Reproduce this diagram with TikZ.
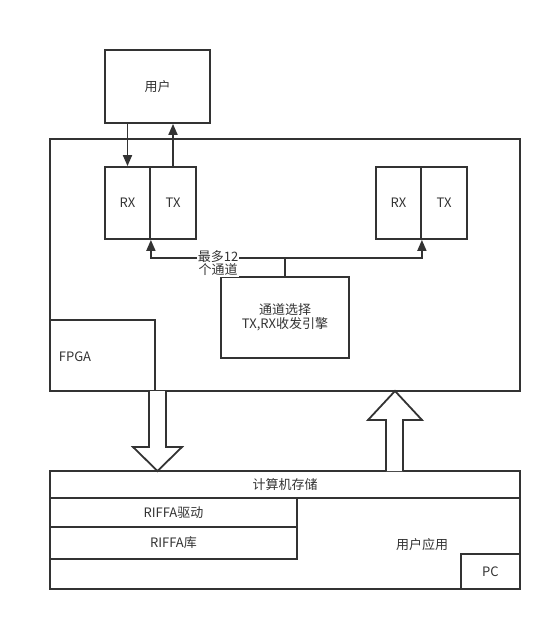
\documentclass[tikz,border=0pt]{standalone}
\usepackage{fontspec}
\setmainfont{Noto Sans CJK SC}
\usetikzlibrary{arrows.meta}
\definecolor{ln}{HTML}{333333}
\definecolor{tx}{HTML}{333333}
\begin{document}
\begin{tikzpicture}[x=1pt,y=-1pt,
  box/.style={draw=ln,line width=1.8pt,inner sep=0pt,text=tx,font=\fontsize{13}{15}\selectfont},
  lbl/.style={text=tx,inner sep=1pt,font=\fontsize{13}{13}\selectfont,align=center},
  conn/.style={draw=ln,line width=1.8pt},
  tip/.style={-{Triangle[width=9pt,length=11pt]}},
  blockarrow/.style={draw=ln,line width=1.8pt,fill=white,line join=miter}]
\useasboundingbox (0,0) rectangle (554,623);
% top part
\node[box,minimum width=105pt,minimum height=73pt] (user) at (157.5,86.5) {用户};
\node[box,minimum width=470pt,minimum height=252pt] (fpga) at (285,265) {};
\node[box,minimum width=45pt,minimum height=72pt] (rxL) at (127.5,203) {RX};
\node[box,minimum width=46pt,minimum height=72pt] (txL) at (173,203) {TX};
\node[box,minimum width=45pt,minimum height=72pt] (rxR) at (398.5,203) {RX};
\node[box,minimum width=46pt,minimum height=72pt] (txR) at (444,203) {TX};
\node[box,minimum width=128pt,minimum height=81pt,align=center] (eng) at (285,317.5) {通道选择\\[-1pt]TX,RX收发引擎};
\node[box,minimum width=105pt,minimum height=71pt] (fpgabox) at (102.5,355.5) {};
\node[lbl] (fpgalbl) at (75,357) {FPGA};
% connectors
\draw[conn,tip] (user.south -| rxL) -- (rxL.north);
\draw[conn,tip] (txL.north) -- (user.south -| txL);
\coordinate (j) at (285,258);
\draw[conn] (eng.north) -- (j);
\draw[conn,tip] (j) -| (rxL.south east);
\draw[conn,tip] (j) -| (rxR.south east);
\node[lbl,fill=white,font=\fontsize{13}{11.5}\selectfont] (chan) at (218,263) {最多12\\个通道};
% bottom part
\node[box,minimum width=470pt,minimum height=118pt] (pc) at (285,530) {};
\node[box,minimum width=470pt,minimum height=27pt] (mem) at (285,484.5) {计算机存储};
\node[box,minimum width=247pt,minimum height=29pt] (drv) at (173.5,512.5) {RIFFA驱动};
\node[box,minimum width=247pt,minimum height=32pt] (lib) at (173.5,543) {RIFFA库};
\node[box,minimum width=59pt,minimum height=35pt] (pclbl) at (490.5,571.5) {PC};
\node[lbl] (app) at (422,545) {用户应用};
% block arrows
\draw[blockarrow] (149,391) -- (149,447) -- (133,447) -- (157.5,471) -- (182,447) -- (166,447) -- (166,391);
\draw[blockarrow] (386,471) -- (386,420) -- (368,420) -- (395,391) -- (422,420) -- (403,420) -- (403,471);
\end{tikzpicture}
\end{document}
